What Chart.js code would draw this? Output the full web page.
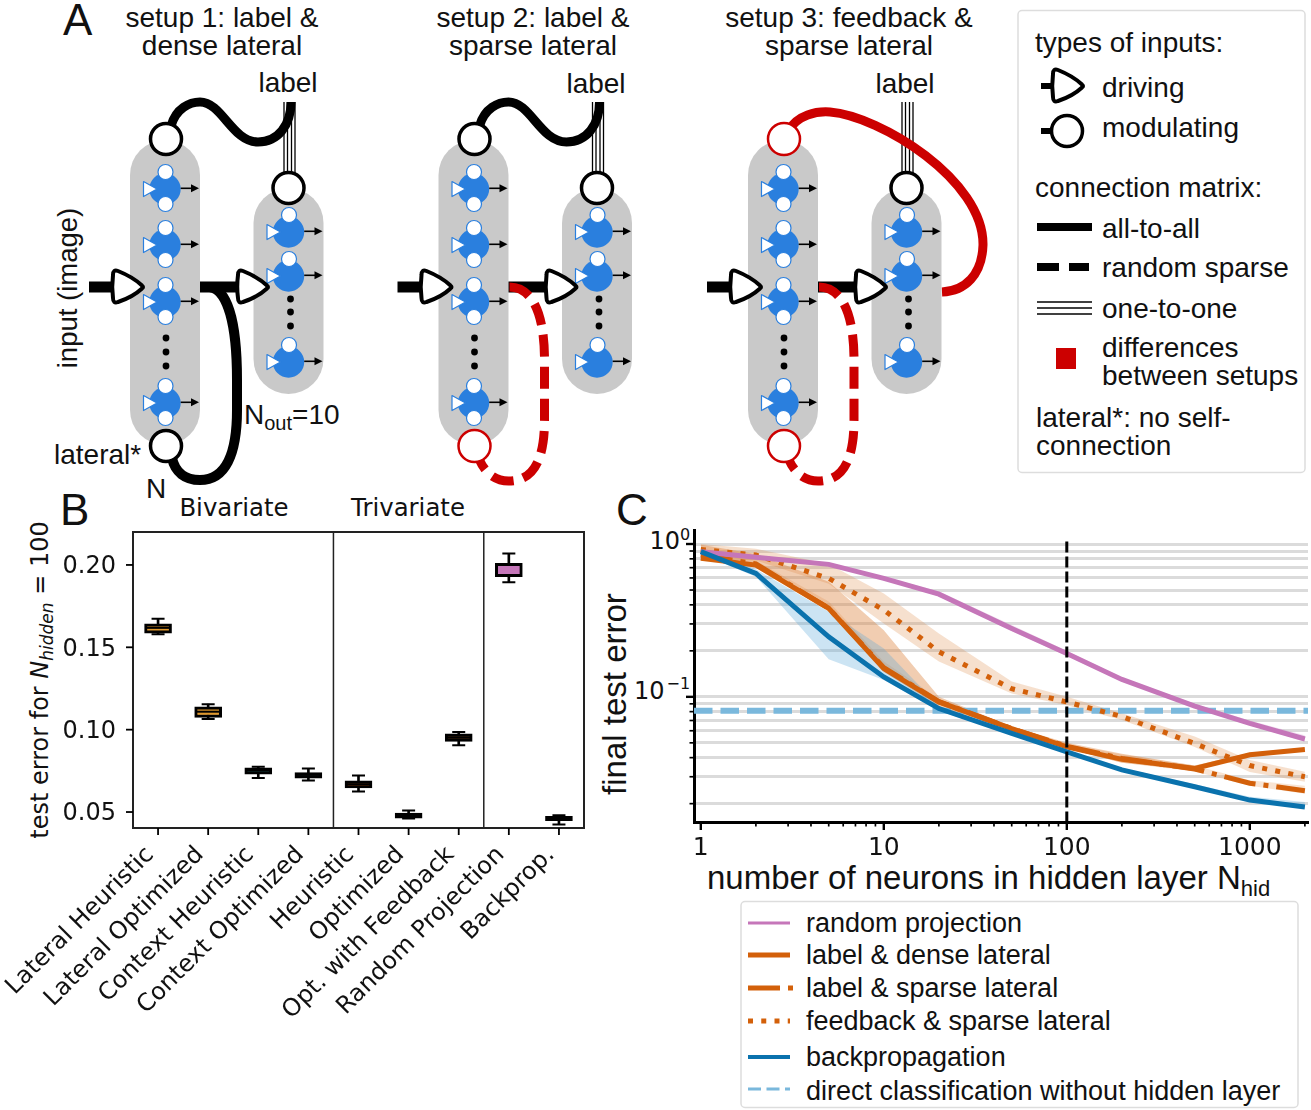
<!DOCTYPE html>
<html>
<head>
<meta charset="utf-8">
<title>Setups and test error</title>
<script src="https://cdn.jsdelivr.net/npm/chart.js@4"></script>
<style>
  html, body { margin: 0; padding: 0; background: #fff; }
  #page { position: relative; width: 1311px; height: 1110px; overflow: hidden; }
  #page svg, #page canvas { position: absolute; }
  #overlay { left: 0; top: 0; }
  #boxChart { left: 0; top: 490px; }
  #curveChart { left: 600px; top: 500px; }
</style>
</head>
<body>
<div id="page">
  <svg id="overlay" width="1311" height="1110" xmlns="http://www.w3.org/2000/svg"></svg>
  <canvas id="boxChart" width="600" height="620"></canvas>
  <canvas id="curveChart" width="711" height="380"></canvas>
</div>
<script>
// panel B
const boxLabels = ["Lateral Heuristic", "Lateral Optimized", "Context Heuristic", "Context Optimized", "Heuristic", "Optimized", "Opt. with Feedback", "Random Projection", "Backprop."];
const whiskerLow = [0.158, 0.1065, 0.0706, 0.0691, 0.0624, 0.046, 0.0905, 0.1895, 0.0425];
const boxQ1 = [0.1586, 0.1074, 0.073, 0.0705, 0.0647, 0.0463, 0.0929, 0.1929, 0.0447];
const boxMedian = [0.1618, 0.1109, 0.0752, 0.0725, 0.0669, 0.048, 0.0952, 0.1937, 0.0461];
const boxQ3 = [0.1643, 0.1139, 0.0769, 0.0739, 0.0689, 0.0494, 0.0974, 0.201, 0.0474];
const whiskerHigh = [0.1673, 0.1155, 0.0775, 0.0764, 0.0722, 0.051, 0.0986, 0.207, 0.048];
const boxColors = ["#e0982c", "#e0982c", "#1f6f6f", "#1f6f6f", "#d55e00", "#1a1a1a", "#5a3310", "#c576b9", "#1a3a5a"];
const boxTicks = [0.05, 0.10, 0.15, 0.20];
const groupBreaks = [3.5, 6.5];

// panel C
const hiddenSizes = [1, 2, 5, 10, 20, 50, 100, 200, 500, 1000, 2000];
const randomProjection = [0.891, 0.818, 0.736, 0.596, 0.47, 0.28, 0.192, 0.13, 0.087, 0.067, 0.053];
const randomUpper = [0.93, 0.84, 0.75, 0.61, 0.49, 0.295, 0.2, 0.134, 0.09, 0.07, 0.056];
const randomLower = [0.86, 0.80, 0.72, 0.585, 0.455, 0.27, 0.185, 0.126, 0.085, 0.065, 0.051];
const labelDense = [0.806, 0.728, 0.38, 0.153, 0.0926, 0.062, 0.047, 0.039, 0.034, 0.0418, 0.0453];
const denseUpper = [0.99, 0.86, 0.567, 0.273, 0.1, 0.064, 0.05, 0.0425, 0.0355, 0.043, 0.0465];
const denseLower = [0.79, 0.71, 0.37, 0.146, 0.086, 0.06, 0.046, 0.037, 0.033, 0.041, 0.0445];
const labelSparse = [0.85, 0.74, 0.38, 0.155, 0.093, 0.062, 0.0475, 0.0395, 0.0337, 0.0272, 0.0243];
const sparseUpper = [0.9, 0.78, 0.42, 0.17, 0.097, 0.064, 0.049, 0.042, 0.0355, 0.0285, 0.0262];
const sparseLower = [0.8, 0.7, 0.36, 0.145, 0.09, 0.06, 0.046, 0.037, 0.0325, 0.0262, 0.0232];
const feedbackSparse = [0.92, 0.847, 0.596, 0.37, 0.197, 0.113, 0.0926, 0.0743, 0.0495, 0.0355, 0.03];
const feedbackUpper = [1.0, 0.93, 0.74, 0.475, 0.26, 0.126, 0.1, 0.078, 0.055, 0.0386, 0.0323];
const feedbackLower = [0.85, 0.78, 0.55, 0.302, 0.17, 0.105, 0.088, 0.0705, 0.047, 0.0322, 0.0278];
const backprop = [0.891, 0.643, 0.247, 0.135, 0.0838, 0.0576, 0.0437, 0.0333, 0.0258, 0.0211, 0.019];
const backpropUpper = [0.93, 0.683, 0.361, 0.207, 0.087, 0.059, 0.0445, 0.0342, 0.0268, 0.0222, 0.0205];
const backpropLower = [0.86, 0.61, 0.176, 0.129, 0.081, 0.056, 0.0428, 0.0326, 0.0253, 0.0207, 0.0186];
const directError = 0.0812;
const markedSize = 100;
const xTickValues = [1, 2, 3, 4, 5, 6, 7, 8, 9, 10, 20, 30, 40, 50, 60, 70, 80, 90, 100, 200, 300, 400, 500, 600, 700, 800, 900, 1000, 2000];
const yTickValues = [1, 0.9, 0.8, 0.7, 0.6, 0.5, 0.4, 0.3, 0.2, 0.1, 0.09, 0.08, 0.07, 0.06, 0.05, 0.04, 0.03, 0.02];
const xTickLabels = [1, 10, 100, 1000];
const curveNames = ["random projection", "label & dense lateral", "label & sparse lateral", "feedback & sparse lateral", "backpropagation", "direct classification without hidden layer"];

const ORANGE = "#d3600a", BLUE = "#0a72ad", PINK = "#c576b9", SKY = "#7ab8dc", RED = "#cc0000", CELL = "#2a7fde", PILL = "#c9c9c9";
const SANS = "'Liberation Sans', Arial, sans-serif", DEJA = "'DejaVu Sans', sans-serif";

// ---------- overlay: schematic, panel letters, axis titles, legends
const parts = [];
const esc = (s) => s.replace(/&/g, "&amp;");
function txt(x, y, s, size, o) {
  o = o || {};
  const anchor = o.anchor || "start";
  const tr = o.rotate ? ` transform="rotate(${o.rotate} ${x} ${y})"` : "";
  parts.push(`<text x="${x}" y="${y}" font-size="${size}" font-family="${o.font || SANS}" text-anchor="${anchor}" fill="${o.fill || "#111"}"${tr}>${s.includes("<tspan") ? s : esc(s)}</text>`);
}
const line = (x1, y1, x2, y2, w, c) => parts.push(`<line x1="${x1}" y1="${y1}" x2="${x2}" y2="${y2}" stroke="${c || "#000"}" stroke-width="${w}"/>`);
const path = (d, w, c, dash) => parts.push(`<path d="${d}" fill="none" stroke="${c}" stroke-width="${w}"${dash ? ` stroke-dasharray="${dash}"` : ""}/>`);

function driver(x, y) {
  parts.push(`<path d="M${x} ${y - 12} Q${x} ${y - 18} ${x + 5} ${y - 16} Q${x + 20} ${y - 10} ${x + 29} ${y - 1.5} Q${x + 31} ${y} ${x + 29} ${y + 1.5} Q${x + 20} ${y + 10} ${x + 5} ${y + 15} Q${x} ${y + 17} ${x} ${y + 11} Q${x - 1.5} ${y} ${x} ${y - 12} Z" fill="#fff" stroke="#000" stroke-width="4" stroke-linejoin="round"/>`);
}
function modulator(x, y, c) {
  parts.push(`<circle cx="${x}" cy="${y}" r="${c ? 16 : 15.5}" fill="#fff" stroke="${c || "#000"}" stroke-width="${c ? 2.5 : 3.5}"/>`);
}
function neuron(x, y, withBottom) {
  parts.push(`<circle cx="${x}" cy="${y}" r="15.7" fill="${CELL}"/>`);
  parts.push(`<circle cx="${x + 0.5}" cy="${y - 17}" r="7.5" fill="#fff" stroke="${CELL}" stroke-width="1.2"/>`);
  if (withBottom) parts.push(`<circle cx="${x + 0.5}" cy="${y + 15}" r="7.5" fill="#fff" stroke="${CELL}" stroke-width="1.2"/>`);
  parts.push(`<path d="M${x - 21.5} ${y - 7.5} L${x - 8} ${y} L${x - 21.5} ${y + 7.5} Z" fill="#fff" stroke="${CELL}" stroke-width="1.2" stroke-linejoin="round"/>`);
  line(x + 15.7, y - 0.7, x + 28, y - 0.7, 1.6);
  parts.push(`<path d="M${x + 26} ${y - 4.7} L${x + 34} ${y - 0.7} L${x + 26} ${y + 3.3} Z" fill="#000"/>`);
}
function setup(dx, kind) {
  const lx = 165 + dx, rx = 288.5 + dx;
  parts.push(`<rect x="${lx - 35}" y="140" width="70" height="305" rx="35" fill="${PILL}"/>`);
  parts.push(`<rect x="${rx - 35}" y="188" width="70" height="206" rx="35" fill="${PILL}"/>`);
  // label lines
  [-5.5, -2, 2, 5.5].forEach((o) => line(rx + o + 1, 102, rx + o + 1, 175, 1.3));
  // top input
  if (kind === 3) path(`M${171 + dx} 130 C${180 + dx} 115 ${198 + dx} 111 ${212 + dx} 112 C${262 + dx} 116 ${366 + dx} 180 ${365 + dx} 245 C${364 + dx} 275 ${347 + dx} 291 ${324 + dx} 292`, 9, RED);
  else path(`M${171 + dx} 126 C${176 + dx} 108 ${190 + dx} 102 ${200 + dx} 102 C${222 + dx} 102 ${232 + dx} 142 ${258 + dx} 142 C${278 + dx} 142 ${291 + dx} 125 ${291 + dx} 102`, 9, "#000");
  // stems
  line(89 + dx, 287, 115 + dx, 287, 11);
  line(200 + dx, 287, 240 + dx, 287, 11);
  // lateral loop
  if (kind === 1) path(`M210 287 C228 290 237 325 237 380 L237 410 C237 455 225 480 200 480 C185 480 175 472 172 458`, 10, "#000");
  else path(`M${201 + dx} 287 C${222 + dx} 287 ${236 + dx} 310 ${236 + dx} 360 L${236 + dx} 420 C${236 + dx} 460 ${225 + dx} 481 ${200 + dx} 481 C${190 + dx} 481 ${178 + dx} 476 ${171 + dx} 460`, 9, RED, "22 10");
  // cells
  [189, 245, 302, 403].forEach((y) => neuron(lx, y, true));
  [232, 276, 362].forEach((y) => neuron(rx, y, false));
  [338, 352, 366].forEach((y) => parts.push(`<circle cx="${lx + 1}" cy="${y}" r="3.4" fill="#000"/>`));
  [299, 312, 326].forEach((y) => parts.push(`<circle cx="${rx + 2}" cy="${y}" r="3.4" fill="#000"/>`));
  // modulating inputs
  modulator(lx + 1, 139, kind === 3 ? RED : null);
  modulator(lx + 1, 446, kind === 1 ? null : RED);
  modulator(rx, 188);
  driver(113 + dx, 287);
  driver(238 + dx, 287);
}
setup(0, 1);
setup(308.5, 2);
setup(618, 3);

txt(63, 35, "A", 44);
txt(60, 525, "B", 44);
txt(616, 525, "C", 44);
[[222, "setup 1: label &", "dense lateral"], [533, "setup 2: label &", "sparse lateral"], [849, "setup 3: feedback &", "sparse lateral"]].forEach((t) => {
  txt(t[0], 27, t[1], 28, { anchor: "middle" });
  txt(t[0], 55, t[2], 28, { anchor: "middle" });
});
txt(288, 92, "label", 28, { anchor: "middle" });
txt(596, 93, "label", 28, { anchor: "middle" });
txt(905, 93, "label", 28, { anchor: "middle" });
txt(77, 288, "input (image)", 27.5, { anchor: "middle", rotate: -90 });
txt(54, 464, "lateral*", 28);
txt(146, 498, "N", 28);
txt(244, 424, `N<tspan font-size="20" dy="6">out</tspan><tspan dy="-6">=10</tspan>`, 28);

// legend of panel A
parts.push(`<rect x="1018" y="10.5" width="287" height="462" rx="4" fill="#fff" stroke="#ddd" stroke-width="1.5"/>`);
[["types of inputs:", 1035, 52], ["driving", 1102, 97], ["modulating", 1102, 137], ["connection matrix:", 1035, 197], ["all-to-all", 1102, 238], ["random sparse", 1102, 277], ["one-to-one", 1102, 318], ["differences", 1102, 357], ["between setups", 1102, 385], ["lateral*: no self-", 1036, 427], ["connection", 1036, 455]].forEach((t) => txt(t[1], t[2], t[0], 28));
line(1041, 86, 1053, 86, 6);
driver(1053, 86);
line(1041, 131, 1053, 131, 6);
modulator(1067, 131);
line(1037, 227, 1092, 227, 8);
line(1037, 267, 1059, 267, 8);
line(1069, 267, 1089, 267, 8);
[302, 308, 314].forEach((y) => line(1037, y, 1092, y, 1.5));
parts.push(`<rect x="1056" y="348" width="20" height="21" fill="${RED}"/>`);

// panel B titles
txt(234, 516, "Bivariate", 24.4, { anchor: "middle", font: DEJA });
txt(408, 516, "Trivariate", 24.4, { anchor: "middle", font: DEJA });
txt(48, 680, `test error for <tspan font-style="italic">N</tspan><tspan font-style="italic" font-size="17" dy="5">hidden</tspan><tspan dy="-5"> = 100</tspan>`, 24, { anchor: "middle", font: DEJA, rotate: -90 });

// panel C titles and y tick labels
txt(626, 694, "final test error", 33, { anchor: "middle", rotate: -90 });
txt(707, 889, `number of neurons in hidden layer N<tspan font-size="22" dy="7">hid</tspan>`, 33);
txt(649.5, 549, `10<tspan font-size="16" dy="-9">0</tspan>`, 24, { font: DEJA });
txt(634, 699, `10<tspan font-size="16" dy="-10" dx="2">−1</tspan>`, 24, { font: DEJA });

// legend of panel C
parts.push(`<rect x="741" y="901.5" width="557" height="206" rx="4" fill="#fff" stroke="#ddd" stroke-width="1.5"/>`);
const legendY = [932, 964, 997, 1030, 1066, 1100];
const legendLine = [
  [PINK, 3, ""], [ORANGE, 5, ""], [ORANGE, 5, "32 8 5 8"], [ORANGE, 5, "5 8.25"], [BLUE, 4, ""], [SKY, 3, "13 5.5"],
];
curveNames.forEach((n, i) => {
  txt(806, legendY[i], n, 27);
  const y = legendY[i] - 9 - (i === 5 ? 2 : 0);
  path(`M748 ${y} L${i === 2 ? 796 : 790} ${y}`, legendLine[i][1], legendLine[i][0], legendLine[i][2]);
});
document.getElementById("overlay").innerHTML = parts.join("");

// ---------- shared chart bits
function fixedAxis(prop, size) {
  return (s) => { s[prop] = size; s.paddingLeft = s.paddingRight = s.paddingTop = s.paddingBottom = 0; };
}
const tickMarks = {
  id: "tickMarks",
  afterDraw(chart, args, opts) {
    const ctx = chart.ctx, a = chart.chartArea;
    ctx.save();
    ctx.strokeStyle = "#000";
    const x = chart.scales.x, y = chart.scales.y;
    x.ticks.forEach((t) => {
      const px = x.getPixelForValue(opts.category ? x.ticks.indexOf(t) : t.value);
      const len = opts.category || xTickLabels.includes(t.value) ? opts.major : opts.minor;
      ctx.lineWidth = opts.category || xTickLabels.includes(t.value) ? opts.width : opts.width * 0.7;
      ctx.beginPath(); ctx.moveTo(px, a.bottom); ctx.lineTo(px, a.bottom + len); ctx.stroke();
    });
    y.ticks.forEach((t) => {
      const py = y.getPixelForValue(t.value);
      const big = opts.category || t.value === 1 || t.value === 0.1;
      ctx.lineWidth = big ? opts.width : opts.width * 0.7;
      ctx.beginPath(); ctx.moveTo(a.left, py); ctx.lineTo(a.left - (big ? opts.major : opts.minor), py); ctx.stroke();
    });
    ctx.restore();
  },
};

// ---------- panel B
const boxFrame = {
  id: "boxFrame",
  afterDatasetsDraw(chart) {
    const ctx = chart.ctx, a = chart.chartArea, x = chart.scales.x;
    ctx.save();
    ctx.strokeStyle = "#222";
    ctx.lineWidth = 1.5;
    groupBreaks.forEach((b) => {
      const px = x.getPixelForValue(b);
      ctx.beginPath(); ctx.moveTo(px, a.top); ctx.lineTo(px, a.bottom); ctx.stroke();
    });
    ctx.lineWidth = 2;
    ctx.strokeRect(a.left, a.top, a.width, a.height);
    ctx.restore();
  },
};
const capDataset = (data, radius, color, order) => ({
  type: "line", data, showLine: false, pointStyle: "line", pointRadius: radius, pointBorderWidth: 2, pointBorderColor: color, order,
});
new Chart(document.getElementById("boxChart"), {
  type: "bar",
  data: {
    labels: boxLabels,
    datasets: [
      capDataset(boxMedian, 12, "#000", 0),
      capDataset(whiskerLow, 6.5, "#000", 1),
      capDataset(whiskerHigh, 6.5, "#000", 1),
      {
        data: boxQ1.map((v, i) => [v, boxQ3[i]]), backgroundColor: boxColors, borderColor: "#000", borderWidth: 3,
        borderSkipped: false, barThickness: 27, grouped: false, order: 2,
      },
      {
        data: whiskerLow.map((v, i) => [v, whiskerHigh[i]]), backgroundColor: "#000", barThickness: 2, grouped: false, order: 3,
      },
    ],
  },
  options: {
    responsive: false, animation: false, devicePixelRatio: 1,
    layout: { padding: { top: 42, right: 16, left: 0, bottom: 0 } },
    plugins: { legend: { display: false }, tooltip: { enabled: false }, tickMarks: { category: true, major: 7, minor: 7, width: 1.8 } },
    scales: {
      x: {
        afterFit: fixedAxis("height", 282),
        grid: { display: false }, border: { display: false },
        ticks: { font: { family: DEJA, size: 24 }, color: "#111", minRotation: 45, maxRotation: 45, autoSkip: false, padding: 5, labelOffset: -8 },
      },
      y: {
        min: 0.0403, max: 0.22,
        afterFit: fixedAxis("width", 133),
        afterBuildTicks: (s) => { s.ticks = boxTicks.map((value) => ({ value })); },
        grid: { display: false }, border: { display: false },
        ticks: { font: { family: DEJA, size: 24 }, color: "#111", padding: 9, labelOffset: 2, callback: (v) => Number(v).toFixed(2) },
      },
    },
  },
  plugins: [boxFrame, tickMarks],
});

// ---------- panel C
const xy = (vals) => hiddenSizes.map((x, i) => ({ x, y: vals[i] }));
const curve = (vals, color, width, dash, order) => ({ data: xy(vals), borderColor: color, borderWidth: width, borderDash: dash || [], borderCapStyle: "butt", pointRadius: 0, showLine: true, tension: 0, fill: false, order });
const band = (upper, lower, color, order) => [
  { data: xy(upper), borderWidth: 0, pointRadius: 0, showLine: true, fill: "+1", backgroundColor: color, order },
  { data: xy(lower), borderWidth: 0, pointRadius: 0, showLine: true, fill: false, order },
];
const X_MIN = 0.918, X_MAX = 2080, Y_MIN = 0.01517, Y_MAX = 1.235;
new Chart(document.getElementById("curveChart"), {
  type: "scatter",
  data: {
    datasets: [
      { data: [{ x: markedSize, y: 1.04 }, { x: markedSize, y: Y_MIN }], borderColor: "#000", borderWidth: 3, borderDash: [11, 4], pointRadius: 0, showLine: true, order: 0 },
      curve(randomProjection, PINK, 5, null, 2),
      curve(backprop, BLUE, 5, null, 1),
      curve(labelDense, ORANGE, 5, null, 3),
      curve(labelSparse, ORANGE, 5, [32, 8, 5, 8], 4),
      curve(feedbackSparse, ORANGE, 5, [5, 8.25], 5),
      { data: [{ x: X_MIN, y: directError }, { x: X_MAX, y: directError }], borderColor: SKY, borderWidth: 6, borderDash: [18.5, 8], pointRadius: 0, showLine: true, order: 6 },
      ...band(randomUpper, randomLower, "rgba(197,118,185,0.22)", 7),
      ...band(backpropUpper, backpropLower, "rgba(86,165,215,0.3)", 8),
      ...band(denseUpper, denseLower, "rgba(221,130,60,0.4)", 9),
      ...band(sparseUpper, sparseLower, "rgba(221,130,60,0.22)", 10),
      ...band(feedbackUpper, feedbackLower, "rgba(221,130,60,0.25)", 11),
    ],
  },
  options: {
    responsive: false, animation: false, devicePixelRatio: 1,
    layout: { padding: { top: 30, right: 3, left: 0, bottom: 0 } },
    plugins: { legend: { display: false }, tooltip: { enabled: false }, tickMarks: { category: false, major: 8, minor: 4.5, width: 2.4 } },
    scales: {
      x: {
        type: "logarithmic", min: X_MIN, max: X_MAX,
        afterFit: fixedAxis("height", 58),
        afterBuildTicks: (s) => { s.ticks = xTickValues.map((value) => ({ value })); },
        grid: { display: false }, border: { display: true, color: "#000", width: 3 },
        ticks: { font: { family: DEJA, size: 25 }, color: "#111", autoSkip: false, maxRotation: 0, padding: 3, callback: (v) => (xTickLabels.includes(v) ? String(v) : "") },
      },
      y: {
        type: "logarithmic", min: Y_MIN, max: Y_MAX,
        afterFit: fixedAxis("width", 94),
        afterBuildTicks: (s) => { s.ticks = yTickValues.map((value) => ({ value })); },
        grid: { color: "rgba(170,170,170,0.42)", lineWidth: 3, drawTicks: false }, border: { display: true, color: "#000", width: 3 },
        ticks: { display: false },
      },
    },
  },
  plugins: [tickMarks],
});
</script>
</body>
</html>
